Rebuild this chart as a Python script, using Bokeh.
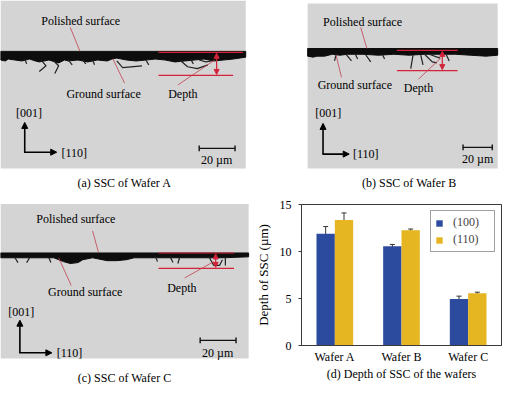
from bokeh.plotting import figure
from bokeh.layouts import row, column
from bokeh.models import (Range1d, Arrow, NormalHead, Whisker, ColumnDataSource,
                          FactorRange, Legend, LegendItem, TeeHead)
from bokeh.core.properties import value
from bokeh.transform import dodge
from bokeh.embed import file_html
from bokeh.resources import INLINE

# ---------------- data ----------------
wafers = ["Wafer A", "Wafer B", "Wafer C"]
depth_100 = [11.9, 10.55, 4.95]
err_100 = [0.75, 0.2, 0.3]
depth_110 = [13.35, 12.25, 5.55]
err_110 = [0.75, 0.14, 0.12]
series_labels = ["(100)", "(110)"]
y_ticks = [0, 5, 10, 15]
y_title = "Depth of SSC (\u00b5m)"
captions = ["(a) SSC of Wafer A", "(b) SSC of Wafer B",
            "(c) SSC of Wafer C", "(d) Depth of SSC of the wafers"]
label_polished = "Polished surface"
label_ground = "Ground surface"
label_depth = "Depth"
dir_up = "[001]"
dir_right = "[110]"
scale_text = "20 \u00b5m"

# ---------------- style ----------------
FONT = "Liberation Serif"
BLUE = "#2c4a9e"
YELLOW = "#e5b522"
IMG_BG = "#d4d4d4"
RED = "#d3233a"
LEADER = "#c2404f"
PW, PH = 252, 192

# micrograph panel geometry (reference-pixel layout of each illustration)
panels = [
    dict(x0=0, y0=0, img=(0, 0, 253, 175), band_top=53,
         band_bottom=[(0, 62), (5, 63), (8, 61), (15, 62), (22, 63), (30, 61), (36, 63), (40, 64),
                      (50, 62), (60, 65), (66, 62), (70, 63), (80, 62), (90, 64), (100, 62),
                      (110, 63), (115, 61), (120, 60), (130, 62), (140, 63), (150, 62), (160, 61),
                      (170, 62), (180, 64), (190, 63), (200, 62), (210, 61), (220, 63), (230, 62),
                      (240, 61), (253, 59)],
         cracks=[[(42, 62), (47, 68), (40, 74)], [(55, 63), (60, 68), (56, 76)],
                 [(120, 63), (126, 70), (146, 68)], [(185, 62), (193, 69), (203, 71), (214, 67)],
                 [(196, 61), (199, 66)], [(150, 62), (153, 67)], [(95, 62), (97, 67)],
                 [(25, 61), (27, 66)], [(70, 62), (74, 67)], [(85, 62), (88, 66)],
                 [(205, 62), (212, 64), (218, 63)]],
         polished=(42, 21), polished_leader=[(72, 28), (82, 53)],
         ground=(68, 97), ground_leader=[(116, 61), (128, 86)],
         red_top=(163, 250, 54), red_bot=(163, 240, 78), arrow_x=223,
         depth=(173, 97), depth_leader=[(183, 88), (221, 62)],
         up_lbl=(16, 117), corner=(25, 158), up_end=127, right_end=58, right_lbl=(63, 159),
         scale=(205, 242, 154), scale_lbl=(223, 166), caption=(128, 190)),
    dict(x0=260, y0=0, img=(268, 3, 515, 175), band_top=50,
         band_bottom=[(268, 58), (275, 59), (280, 58), (290, 58), (300, 56), (310, 57), (320, 56),
                      (340, 56), (360, 57), (380, 56), (400, 57), (420, 56), (440, 56), (460, 56),
                      (480, 57), (500, 58), (515, 57)],
         cracks=[[(305, 56), (303, 63)], [(318, 56), (325, 63)], [(343, 56), (350, 64)],
                 [(420, 56), (430, 64), (436, 65)], [(415, 57), (418, 67)],
                 [(405, 57), (402, 71)], [(426, 56), (440, 60)], [(448, 56), (452, 63)],
                 [(365, 56), (368, 61)], [(330, 56), (333, 61)]],
         polished=(288, 22), polished_leader=[(337, 28), (345, 50)],
         ground=(281, 88), ground_leader=[(305, 57), (312, 80)],
         red_top=(384, 463, 52), red_bot=(384, 463, 73), arrow_x=443,
         depth=(393, 91), depth_leader=[(412, 82), (441, 60)],
         up_lbl=(278, 117), corner=(288, 160), up_end=128, right_end=322, right_lbl=(327, 160),
         scale=(470, 508, 153), scale_lbl=(489, 165), caption=(400, 190)),
    dict(x0=0, y0=200, img=(0, 212, 256, 373), band_top=263,
         band_bottom=[(0, 268), (20, 268), (40, 268), (55, 268), (60, 270), (65, 272), (72, 274),
                      (80, 273), (85, 270), (95, 268), (100, 269), (110, 271), (120, 271),
                      (130, 270), (138, 268), (150, 268), (170, 268), (190, 268), (210, 268),
                      (230, 268), (256, 267)],
         cracks=[[(15, 268), (18, 273)], [(30, 268), (27, 273)], [(50, 268), (52, 273)],
                 [(175, 267), (178, 273)], [(185, 267), (183, 274)],
                 [(215, 267), (220, 276), (226, 276), (229, 270)], [(232, 267), (232, 276)],
                 [(160, 267), (162, 272)]],
         polished=(37, 228), polished_leader=[(95, 240), (101, 262)],
         ground=(49, 304), ground_leader=[(60, 268), (73, 297)],
         red_top=(163, 241, 263), red_bot=(163, 241, 279), arrow_x=222,
         depth=(172, 299), depth_leader=[(190, 289), (220, 272)],
         up_lbl=(8, 324), corner=(20, 367), up_end=333, right_end=53, right_lbl=(58, 367),
         scale=(206, 243, 354), scale_lbl=(224, 367), caption=(128, 393)),
]


def txt(p, x, y, s, align="left", size="12px"):
    p.text(x=[x], y=[y], text=[s], text_font=value(FONT), text_font_size=size,
           text_align=align, text_baseline="middle", text_color="black")


def micrograph(cfg, caption):
    x0, y0 = cfg["x0"], cfg["y0"]
    p = figure(width=PW, height=PH, x_range=Range1d(x0, x0 + 260), y_range=Range1d(y0 + 200, y0),
               output_backend="svg", toolbar_location=None, min_border=0)
    p.axis.visible = False
    p.grid.visible = False
    p.outline_line_color = None
    ix0, iy0, ix1, iy1 = cfg["img"]
    p.quad(left=[ix0], right=[ix1], top=[iy0], bottom=[iy1], fill_color=IMG_BG, line_color=None)
    # band
    bb = cfg["band_bottom"]
    xs = [bb[0][0], bb[-1][0]] + [q[0] for q in reversed(bb)]
    ys = [cfg["band_top"], cfg["band_top"]] + [q[1] for q in reversed(bb)]
    p.patch(xs, ys, fill_color="#0d0d0d", line_color="#0d0d0d")
    p.multi_line([[q[0] for q in c] for c in cfg["cracks"]],
                 [[q[1] for q in c] for c in cfg["cracks"]], line_color="#222", line_width=1.2)
    # red depth lines
    for (a, b, yy) in (cfg["red_top"], cfg["red_bot"]):
        p.line([a, b], [yy, yy], line_color=RED, line_width=1.2)
    ax = cfg["arrow_x"]
    p.add_layout(Arrow(x_start=ax, y_start=cfg["red_top"][2] + 1, x_end=ax, y_end=cfg["red_bot"][2] - 1,
                       line_color=RED, line_width=1.2,
                       start=NormalHead(size=5, fill_color=RED, line_color=RED),
                       end=NormalHead(size=5, fill_color=RED, line_color=RED)))
    # leaders
    for key in ("polished_leader", "ground_leader", "depth_leader"):
        (a, b), (c, d) = cfg[key]
        p.line([a, c], [b, d], line_color=LEADER, line_width=0.8)
    txt(p, *cfg["polished"], label_polished)
    txt(p, *cfg["ground"], label_ground)
    txt(p, *cfg["depth"], label_depth)
    # direction arrows
    cx, cy = cfg["corner"]
    p.add_layout(Arrow(x_start=cx, y_start=cy, x_end=cx, y_end=cfg["up_end"], line_width=1.6,
                       end=NormalHead(size=6, fill_color="black", line_color="black")))
    p.add_layout(Arrow(x_start=cx - 0.8, y_start=cy, x_end=cfg["right_end"], y_end=cy, line_width=1.6,
                       end=NormalHead(size=6, fill_color="black", line_color="black")))
    txt(p, *cfg["up_lbl"], dir_up)
    txt(p, *cfg["right_lbl"], dir_right)
    # scale bar
    a, b, yy = cfg["scale"]
    p.line([a, b], [yy, yy], line_color="#111", line_width=1.4)
    p.multi_line([[a, a], [b, b]], [[yy - 3, yy + 3], [yy - 3, yy + 3]], line_color="#111", line_width=1.4)
    txt(p, *cfg["scale_lbl"], scale_text, align="center")
    txt(p, *cfg["caption"], caption, align="center")
    return p


pa = micrograph(panels[0], captions[0])
pb = micrograph(panels[1], captions[1])
pc = micrograph(panels[2], captions[2])

# ---------------- bar chart ----------------
src = ColumnDataSource(dict(
    w=wafers, a=depth_100, b=depth_110,
    a_lo=[v - e for v, e in zip(depth_100, err_100)], a_hi=[v + e for v, e in zip(depth_100, err_100)],
    b_lo=[v - e for v, e in zip(depth_110, err_110)], b_hi=[v + e for v, e in zip(depth_110, err_110)],
))
pd = figure(width=PW, height=PH, x_range=FactorRange(*wafers), y_range=Range1d(0, 15),
            output_backend="svg", toolbar_location=None,
            min_border_left=47, min_border_right=3, min_border_top=12, min_border_bottom=39)
BW, OFF = 0.275, 0.1375
r1 = pd.vbar(x=dodge("w", -OFF, range=pd.x_range), top="a", width=BW, source=src,
             fill_color=BLUE, line_color=None)
r2 = pd.vbar(x=dodge("w", OFF, range=pd.x_range), top="b", width=BW, source=src,
             fill_color=YELLOW, line_color=None)
for off, lo, hi in ((-OFF, "a_lo", "a_hi"), (OFF, "b_lo", "b_hi")):
    pd.add_layout(Whisker(base=dodge("w", off, range=pd.x_range), lower=lo, upper=hi, source=src,
                          line_color="#333", line_width=1,
                          lower_head=TeeHead(size=5, line_color="#333", line_width=1),
                          upper_head=TeeHead(size=5, line_color="#333", line_width=1)))
pd.grid.visible = False
pd.outline_line_color = "#3a3a3a"
pd.background_fill_color = "white"
pd.yaxis.ticker = y_ticks
for ax in (pd.xaxis[0], pd.yaxis[0]):
    ax.axis_line_color = "#3a3a3a"
    ax.major_label_text_font = FONT
    ax.major_label_text_font_size = "12px"
    ax.major_label_text_color = "black"
    ax.axis_label_text_font = FONT
    ax.axis_label_text_font_style = "normal"
    ax.axis_label_text_color = "black"
    ax.minor_tick_line_color = None
pd.xaxis.major_tick_line_color = None
pd.xaxis.major_tick_out = 0
pd.xaxis.major_tick_in = 0
pd.xaxis.major_label_standoff = 4
pd.xaxis.axis_label = captions[3]
pd.xaxis.axis_label_text_font_size = "12px"
pd.xaxis.axis_label_standoff = 0
pd.yaxis.major_tick_in = 0
pd.yaxis.major_tick_out = 3
pd.yaxis.major_tick_line_color = "#3a3a3a"
pd.yaxis.major_label_standoff = 7
pd.yaxis.axis_label = y_title
pd.yaxis.axis_label_text_font_size = "13px"
pd.yaxis.axis_label_standoff = 6

legend = Legend(items=[LegendItem(label=series_labels[0], renderers=[r1]),
                       LegendItem(label=series_labels[1], renderers=[r2])],
                location="top_right", border_line_color="#444", border_line_width=1,
                label_text_font=FONT, label_text_font_size="12px", label_height=12,
                label_width=37, glyph_width=8, glyph_height=8, padding=4, spacing=2,
                margin=6, label_standoff=10, background_fill_alpha=1)
pd.add_layout(legend)

layout = row(column(pa, pc), column(pb, pd))
open("out.html", "w").write(file_html(layout, INLINE))
